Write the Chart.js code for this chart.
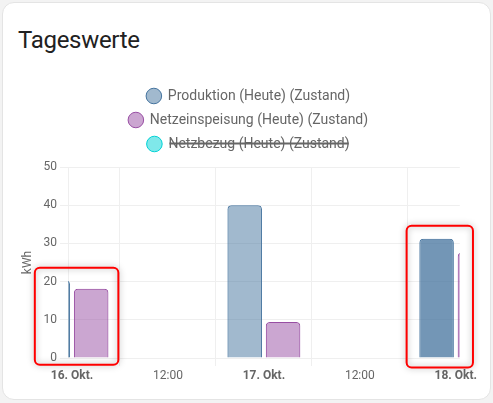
<!DOCTYPE html>
<html><head><meta charset="utf-8">
<script src="https://cdn.jsdelivr.net/npm/chart.js@4.4.1/dist/chart.umd.min.js"></script>
<style>
html,body{margin:0;padding:0;background:#f3f3f3;width:493px;height:403px;overflow:hidden;font-family:Roboto,sans-serif;}
#card{position:absolute;left:2px;top:2px;width:487px;height:396px;background:#fff;border:1px solid #e4e4e4;border-radius:12px;}
#title{position:absolute;left:18px;top:24px;font-family:Roboto;font-size:24px;font-weight:400;color:#212121;letter-spacing:-0.3px;line-height:32px;white-space:nowrap;}
#wrap{position:absolute;left:17px;top:79px;width:463px;height:309px;}
</style></head><body>
<div id="card"></div>
<div id="title">Tageswerte</div>
<div id="wrap"><canvas id="c"></canvas></div>
<script>
// hours since 16. Okt. 00:00
const dayHours = [0, 24, 48];
const produktion = [20.3, 40.0, 31.2];
const netzeinspeisung = [18.1, 9.4, 27.6];
const netzbezug = [1.2, 0.3, 0.6];
const seriesNames = ['Produktion (Heute) (Zustand)', 'Netzeinspeisung (Heute) (Zustand)', 'Netzbezug (Heute) (Zustand)'];
const tickHours = [0, 12, 24, 36, 48];
const tickLabels = ['16. Okt.', '12:00', '17. Okt.', '12:00', '18. Okt.'];
const yTicks = [0, 10, 20, 30, 40, 50];
const highlights = [
  {x0: -4.65, x1: 5.8, y0: -1.75, y1: 23.6},
  {x0: 41.85, x1: 50.15, y0: -2.5, y1: 34.6}
];

Chart.defaults.font.family = 'Roboto';
Chart.defaults.color = '#666';

const GRID = '#efefef';

const legendGap = {
  id: 'legendGap',
  beforeLayout(chart) {
    const lg = chart.legend;
    if (lg && !lg._gapPatched) {
      const orig = lg.fit;
      lg.fit = function() { orig.call(this); this.height += 6; };
      lg._gapPatched = true;
    }
  }
};

const highlightPlugin = {
  id: 'highlightBoxes',
  afterDraw(chart) {
    const {ctx, scales: {x, y}} = chart;
    ctx.save();
    highlights.forEach(h => {
      const l = x.getPixelForValue(h.x0), r = x.getPixelForValue(h.x1);
      const t = y.getPixelForValue(h.y1), b = y.getPixelForValue(h.y0);
      ctx.shadowColor = 'rgba(0,0,0,0.35)';
      ctx.shadowBlur = 6;
      ctx.strokeStyle = '#ff0000';
      ctx.lineWidth = 2;
      ctx.beginPath();
      ctx.roundRect(l, t, r - l, b - t, 5);
      ctx.stroke();
    });
    ctx.restore();
  }
};

const pts = arr => dayHours.map((h, i) => ({x: h, y: arr[i]}));

new Chart(document.getElementById('c'), {
  type: 'bar',
  data: {
    datasets: [
      {
        label: seriesNames[0], data: pts(produktion),
        backgroundColor: ['rgba(68,115,158,0.5)', 'rgba(68,115,158,0.5)', 'rgba(68,115,158,0.75)'],
        borderColor: '#44739e', borderWidth: 1, borderRadius: 4
      },
      {
        label: seriesNames[1], data: pts(netzeinspeisung),
        backgroundColor: 'rgba(152,78,163,0.5)', borderColor: '#984ea3', borderWidth: 1, borderRadius: 4
      },
      {
        label: seriesNames[2], data: pts(netzbezug), hidden: true,
        backgroundColor: 'rgba(0,210,213,0.5)', borderColor: '#00d2d5', borderWidth: 1, borderRadius: 4
      }
    ]
  },
  options: {
    responsive: true,
    maintainAspectRatio: false,
    animation: false,
    clip: 0,
    datasets: { bar: { categoryPercentage: 0.8, barPercentage: 0.9 } },
    layout: { padding: 0 },
    plugins: {
      tooltip: { enabled: false },
      legend: {
        position: 'top',
        labels: {
          usePointStyle: true, pointStyle: 'circle',
          boxWidth: 14, boxHeight: 11, padding: 10,
          font: { size: 14 }, color: '#666'
        }
      }
    },
    scales: {
      x: {
        type: 'linear', min: -0.5, max: 48.5, offset: false,
        afterBuildTicks: s => { s.ticks = tickHours.map(v => ({value: v})); },
        ticks: {
          autoSkip: false, maxRotation: 0, padding: 3,
          callback: v => { const i = tickHours.indexOf(v); return i >= 0 ? tickLabels[i] : ''; },
          font: c => ({ size: 12, weight: (c.tick && c.tick.value % 24 === 0) ? 'bold' : 'normal' })
        },
        grid: { offset: true, color: GRID, tickLength: 8 },
        border: { display: false },
        afterFit: s => { s.height = 30; }
      },
      y: {
        min: 0, max: 50,
        afterBuildTicks: s => { s.ticks = yTicks.map(v => ({value: v})); },
        ticks: { padding: 3, font: { size: 12 } },
        grid: { color: GRID, tickLength: 8 },
        border: { color: GRID },
        title: { display: true, text: 'kWh', font: { size: 12 }, padding: { top: 4, bottom: 4 } },
        afterFit: s => { s.width = 51; }
      }
    }
  },
  plugins: [legendGap, highlightPlugin]
});
</script>
</body></html>
